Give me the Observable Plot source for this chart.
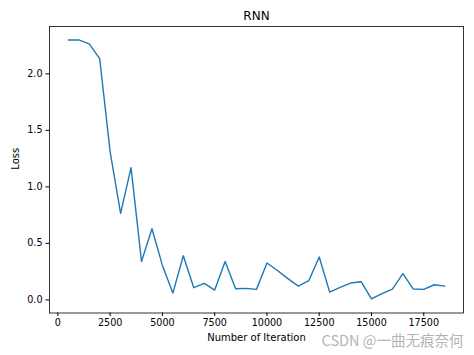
<!DOCTYPE html>
<html>
<head>
<meta charset="utf-8">
<script src="https://cdn.jsdelivr.net/npm/d3@7"></script>
<script src="https://cdn.jsdelivr.net/npm/@observablehq/plot@0.6"></script>
<style>
  html, body { margin: 0; padding: 0; background: #fff; }
</style>
</head>
<body>
<div id="chart"></div>
<script>
const iterations = [500, 1000, 1500, 2000, 2500, 3000, 3500, 4000, 4500, 5000,
  5500, 6000, 6500, 7000, 7500, 8000, 8500, 9000, 9500, 10000,
  10500, 11000, 11500, 12000, 12500, 13000, 13500, 14000, 14500, 15000,
  15500, 16000, 16500, 17000, 17500, 18000, 18500];
const loss = [2.30, 2.30, 2.265, 2.135, 1.31, 0.765, 1.17, 0.34, 0.63, 0.305,
  0.06, 0.39, 0.108, 0.146, 0.087, 0.34, 0.099, 0.102, 0.093, 0.326,
  0.26, 0.188, 0.122, 0.17, 0.38, 0.069, 0.11, 0.149, 0.161, 0.01,
  0.055, 0.096, 0.232, 0.096, 0.093, 0.134, 0.122];
const xTicks = [0, 2500, 5000, 7500, 10000, 12500, 15000, 17500];
const yTicks = [0.0, 0.5, 1.0, 1.5, 2.0];
const titleText = "RNN";
const xLabel = "Number of Iteration";
const yLabel = "Loss";
const watermark = "CSDN @一曲无痕奈何";

const data = iterations.map((x, i) => ({x, y: loss[i]}));

const chart = Plot.plot({
  width: 474,
  height: 355,
  marginTop: 26,
  marginBottom: 42.5,
  marginLeft: 49,
  marginRight: 11,
  style: {fontFamily: "DejaVu Sans", fontSize: "9.6px", background: "#fff", color: "#000"},
  x: {domain: [-400, 19400], ticks: xTicks, tickFormat: d => String(d), tickSize: 3.5, tickPadding: 3, label: null},
  y: {domain: [-0.116, 2.419], ticks: yTicks, tickFormat: d3.format(".1f"), tickSize: 3.5, tickPadding: 3.5, label: null},
  marks: [
    Plot.frame({stroke: "#000", strokeWidth: 0.8}),
    Plot.line(data, {x: "x", y: "y", stroke: "#1f77b4", strokeWidth: 1.4}),
    Plot.text([titleText], {frameAnchor: "top", lineAnchor: "middle", dy: -10, fontSize: 12, fill: "#000"}),
    Plot.text([xLabel], {frameAnchor: "bottom", lineAnchor: "middle", dy: 25, fontSize: 10, fill: "#000"}),
    Plot.text([yLabel], {frameAnchor: "left", lineAnchor: "middle", dx: -34, rotate: -90, fontSize: 10, fill: "#000"}),
    Plot.text([watermark], {frameAnchor: "bottom-right", lineAnchor: "middle", textAnchor: "end", dx: 0, dy: 28, fontSize: 14.5, fill: "#b4b4b4", fontFamily: "Noto Sans CJK SC", stroke: "#fff", strokeWidth: 1.5, paintOrder: "stroke"})
  ]
});
document.getElementById("chart").appendChild(chart);
</script>
</body>
</html>
